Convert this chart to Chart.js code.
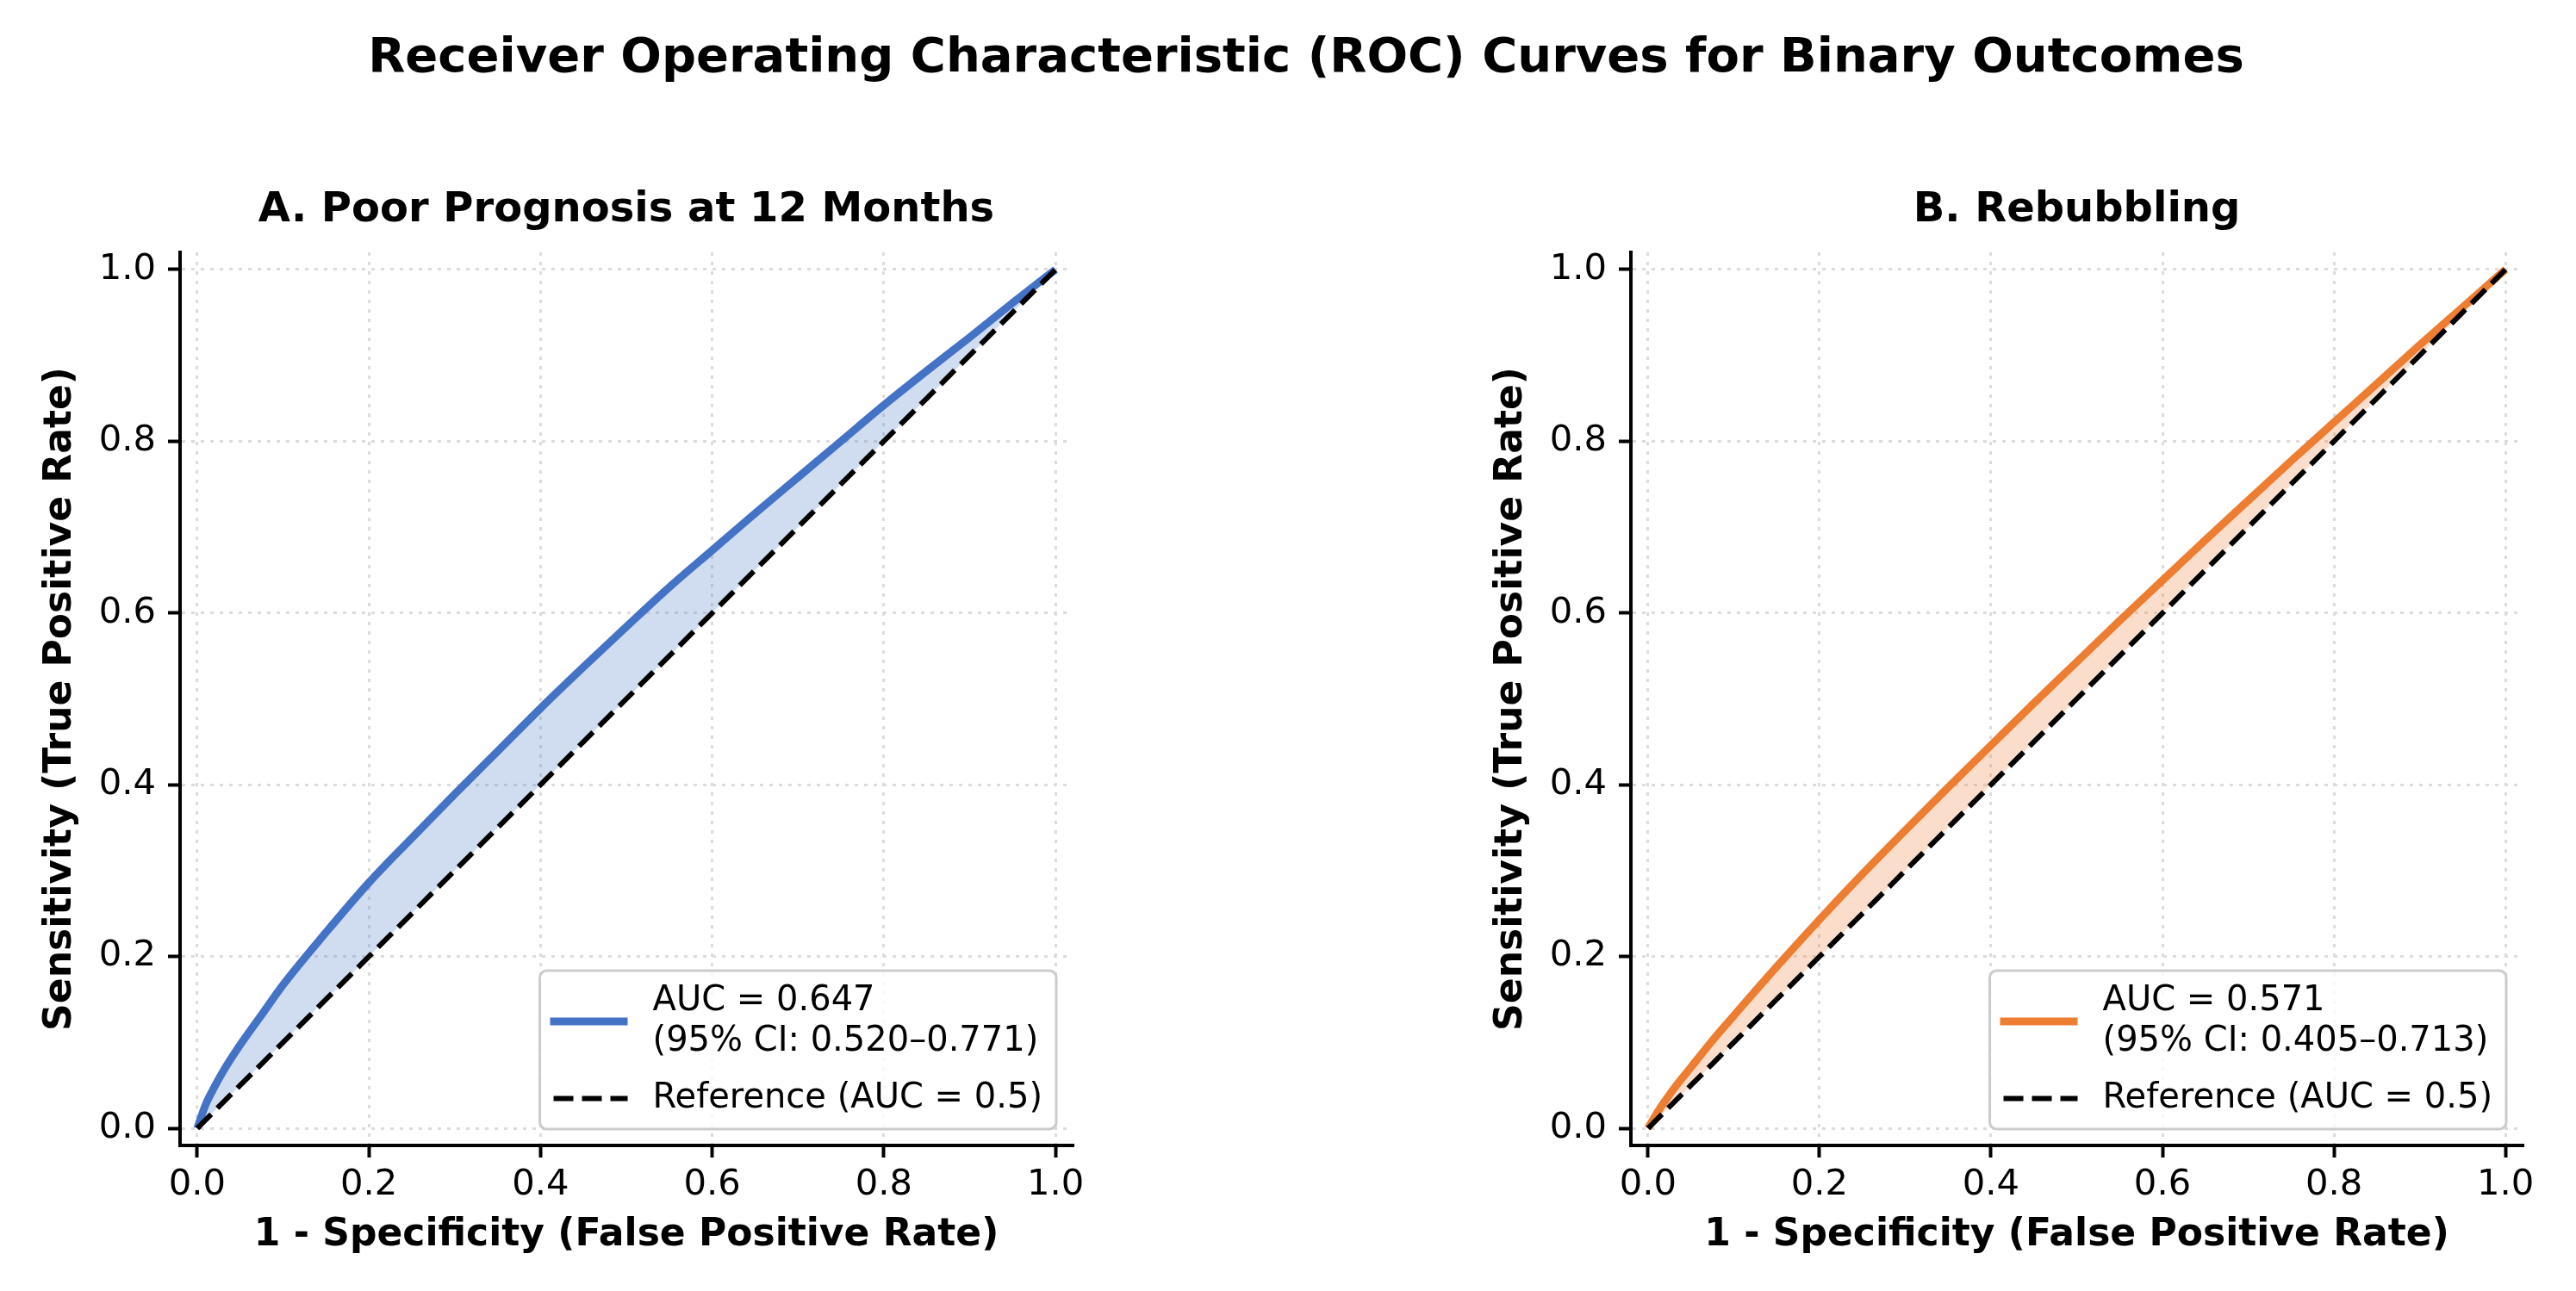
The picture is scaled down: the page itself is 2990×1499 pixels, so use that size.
<!DOCTYPE html>
<html>
<head>
<meta charset="utf-8">
<script src="https://cdn.jsdelivr.net/npm/chart.js@4.4.1/dist/chart.umd.min.js"></script>
<style>
  html, body { margin: 0; padding: 0; background: #fff; }
  #wrap { position: relative; width: 2990px; height: 1499px; overflow: hidden; }
  #suptitle {
    position: absolute; left: 1516px; top: 36px; transform: translateX(-50%);
    white-space: nowrap; font: bold 56px "DejaVu Sans"; line-height: 56px; color: #000;
  }
  canvas { position: absolute; top: 0; }
  #rocA { left: 0; }
  #rocB { left: 1495px; }
</style>
</head>
<body>
<div id="wrap">
  <div id="suptitle">Receiver Operating Characteristic (ROC) Curves for Binary Outcomes</div>
  <canvas id="rocA" width="1495" height="1499"></canvas>
  <canvas id="rocB" width="1495" height="1499"></canvas>
</div>
<script>
// false positive rate grid (x)
const fpr = [0, 0.01, 0.02, 0.03, 0.05, 0.075, 0.1, 0.15, 0.2, 0.25, 0.3, 0.35, 0.4,
             0.45, 0.5, 0.55, 0.6, 0.65, 0.7, 0.75, 0.8, 0.85, 0.9, 0.95, 1.0];
// sensitivity for each panel
const tprPoorPrognosis = [0, 0.028, 0.048, 0.066, 0.097, 0.132, 0.167, 0.228, 0.286, 0.338, 0.389, 0.439, 0.489,
                          0.537, 0.584, 0.630, 0.673, 0.716, 0.758, 0.800, 0.842, 0.882, 0.921, 0.961, 1.0];
const tprRebubbling = [0, 0.017, 0.032, 0.046, 0.071, 0.102, 0.131, 0.188, 0.243, 0.296, 0.347, 0.397, 0.446,
                       0.495, 0.543, 0.591, 0.638, 0.685, 0.731, 0.777, 0.822, 0.867, 0.912, 0.956, 1.0];
const tickValues = [0, 0.2, 0.4, 0.6, 0.8, 1.0];
const panelTitles = ['A. Poor Prognosis at 12 Months', 'B. Rebubbling'];
const aucLabelsA = ['AUC = 0.647', '(95% CI: 0.520\u20130.771)'];
const aucLabelsB = ['AUC = 0.571', '(95% CI: 0.405\u20130.713)'];
const referenceLabel = 'Reference (AUC = 0.5)';

const FONT = '"DejaVu Sans"';

// panel title + legend box, matplotlib style
const panelDecor = {
  id: 'panelDecor',
  afterDraw(chart, args, opts) {
    const { ctx, chartArea } = chart;
    ctx.save();
    ctx.fillStyle = '#000';
    ctx.font = 'bold 48px ' + FONT;
    ctx.textAlign = 'center';
    ctx.textBaseline = 'alphabetic';
    ctx.fillText(opts.title, (chartArea.left + chartArea.right) / 2, 257);

    ctx.font = '40px ' + FONT;
    const lines = opts.aucLines.concat([opts.refLabel]);
    const textW = Math.max(...lines.map(t => ctx.measureText(t).width));
    const pad = 12, handleLen = 90, handlePad = 29, lineH = 47, spacing = 19;
    const boxW = pad + handleLen + handlePad + textW + pad + 4;
    const boxH = pad + 2 * lineH + spacing + lineH + pad;
    const right = chartArea.right - 19, bottom = chartArea.bottom - 19;
    const left = right - boxW, top = bottom - boxH;
    const r = 8;
    ctx.beginPath();
    ctx.moveTo(left + r, top);
    ctx.arcTo(right, top, right, bottom, r);
    ctx.arcTo(right, bottom, left, bottom, r);
    ctx.arcTo(left, bottom, left, top, r);
    ctx.arcTo(left, top, right, top, r);
    ctx.closePath();
    ctx.fillStyle = 'rgba(255,255,255,0.8)';
    ctx.fill();
    ctx.lineWidth = 3;
    ctx.strokeStyle = '#cccccc';
    ctx.stroke();

    const hx0 = left + pad, hx1 = hx0 + handleLen, tx = hx1 + handlePad;
    // curve handle
    const yCurve = top + pad + lineH;
    ctx.beginPath();
    ctx.moveTo(hx0, yCurve); ctx.lineTo(hx1, yCurve);
    ctx.lineWidth = 9; ctx.strokeStyle = opts.color; ctx.lineCap = 'butt';
    ctx.stroke();
    // reference handle
    const yRef = top + pad + 2 * lineH + spacing + lineH / 2;
    ctx.beginPath();
    ctx.setLineDash([23, 10]);
    ctx.moveTo(hx0 + 4, yRef); ctx.lineTo(hx1, yRef);
    ctx.lineWidth = 6; ctx.strokeStyle = '#000';
    ctx.stroke();
    ctx.setLineDash([]);

    ctx.fillStyle = '#000';
    ctx.textAlign = 'left';
    ctx.textBaseline = 'middle';
    ctx.fillText(opts.aucLines[0], tx, top + pad + lineH / 2);
    ctx.fillText(opts.aucLines[1], tx, top + pad + lineH * 1.5);
    ctx.fillText(opts.refLabel, tx, yRef);
    ctx.restore();
  }
};

function axisOpts(axis, titleText) {
  return {
    type: 'linear',
    min: -0.02,
    max: 1.02,
    afterBuildTicks: s => { s.ticks = tickValues.map(v => ({ value: v })); },
    afterFit: s => { if (axis === 'y') s.width = 209; else s.height = 169; },
    grid: {
      color: '#dcdcdc',
      lineWidth: 3,
      drawTicks: true,
      tickLength: 14,
      tickWidth: 4,
      tickColor: '#000',
      tickBorderDash: []
    },
    border: { display: true, color: '#000', width: 4, dash: [4, 7] },
    ticks: {
      color: '#000',
      padding: axis === 'y' ? 14 : 7,
      font: { family: FONT, size: 41.7 },
      callback: v => v.toFixed(1)
    },
    title: {
      display: true,
      text: titleText,
      color: '#000',
      font: { family: FONT, size: 44, weight: 'bold' },
      padding: axis === 'y' ? { top: 44, bottom: 0 } : { top: 0, bottom: 38 }
    }
  };
}

function makePanel(id, tpr, color, fillColor, title, aucLines, padLeft, padRight) {
  const curve = fpr.map((x, i) => ({ x: x, y: tpr[i] }));
  const diagonal = fpr.map(x => ({ x: x, y: x }));
  new Chart(document.getElementById(id), {
    type: 'line',
    data: {
      datasets: [
        {
          label: aucLines.join(' '),
          data: curve,
          borderColor: color,
          borderWidth: 9,
          pointRadius: 0,
          cubicInterpolationMode: 'monotone',
          fill: { target: 1, above: fillColor, below: fillColor },
          order: 1
        },
        {
          label: referenceLabel,
          data: diagonal,
          borderColor: '#000',
          borderWidth: 6,
          borderDash: [23, 10],
          pointRadius: 0,
          fill: false,
          order: 0
        }
      ]
    },
    options: {
      responsive: false,
      animation: false,
      devicePixelRatio: 1,
      layout: { padding: { left: padLeft, right: padRight, top: 293, bottom: 0 } },
      scales: {
        x: axisOpts('x', '1 - Specificity (False Positive Rate)'),
        y: axisOpts('y', 'Sensitivity (True Positive Rate)')
      },
      plugins: {
        legend: { display: false },
        tooltip: { enabled: false },
        panelDecor: { title: title, aucLines: aucLines, refLabel: referenceLabel, color: color }
      }
    },
    plugins: [panelDecor]
  });
}

makePanel('rocA', tprPoorPrognosis, '#4472C4', 'rgba(68,114,196,0.25)', panelTitles[0], aucLabelsA, 0, 250);
makePanel('rocB', tprRebubbling, '#ED7D31', 'rgba(237,125,49,0.25)', panelTitles[1], aucLabelsB, 189, 62);
</script>
</body>
</html>
